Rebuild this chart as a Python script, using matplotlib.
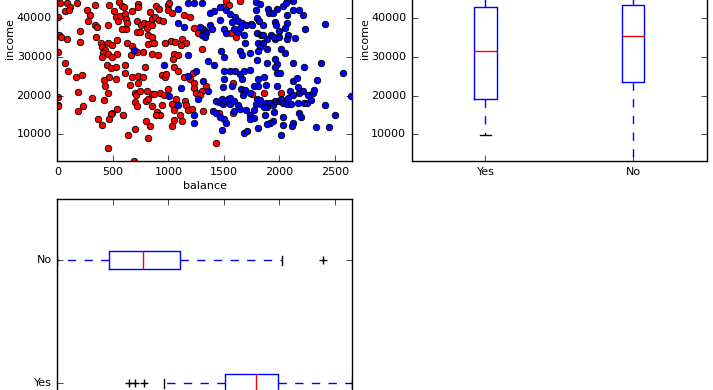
import matplotlib
matplotlib.use("Agg")
import matplotlib.pyplot as plt

plt.style.use("classic")
plt.rcParams["font.family"] = ["DejaVu Sans"]
plt.rcParams["font.size"] = 8

# ---------------- data ----------------
red_balance = [24, 87, 111, 69, 105, 180, 267, 291, 339, 465, 555, 579, 597, 507, 525, 543, 561, 609, 621,
               669, 729, 729, 837, 849, 714, 753, 783, 819, 807, 855, 279, 339, 357, 459, 627, 615, 579, 717,
               747, 819, 855, 201, 345, 15, 33, 87, 207, 393, 459, 489, 537, 627, 669, 399, 429, 414, 459, 534,
               663, 717, 771, 813, 855, 855, 489, 405, 69, 99, 447, 483, 531, 609, 609, 789, 171, 219, 417, 465,
               531, 669, 723, 771, 5, 5,
               429, 189, 453, 315, 417, 231, 189, 9, 9, 3, 657, 723, 699, 711, 741, 807, 855, 795, 819, 699, 717,
               855, 537, 495, 483, 591, 465, 369, 399, 795, 837, 699, 639, 819, 459, 693,
               885, 915, 993, 1005, 999, 1029, 879, 915, 951, 1137, 1191, 1233, 1263, 1311, 867, 969, 1023, 1059,
               1119, 1161, 1113, 903, 1053, 1089, 1041, 1299, 1503, 1515, 1545, 1641, 1563, 1611, 1047, 1089, 939,
               969, 981, 1143, 1191, 1221,
               873, 921, 963, 945, 897, 927, 885, 999, 1029, 1047, 1053, 1101, 1125, 1035, 1071, 1149, 1161, 1173,
               1209, 1227, 1233, 1245, 1305, 1287, 1335, 1311, 1455, 1431, 1581, 1581,
               1863, 2019, 1755]
red_income = [43948, 43948, 42744, 41884, 42056, 43948, 42056, 40680, 43432, 43432, 44206, 43088, 42744, 41712,
              40336, 39304, 40508, 41024, 39648, 41712, 43604, 42744, 41540, 39820, 39132, 38272, 38616, 38444,
              37412, 38272, 39304, 38100, 37584, 38272, 38616, 37240, 37068, 36380, 36380, 35692, 35176, 36552,
              35004, 35692, 35176, 34488, 33800, 33628, 33628, 32940, 34316, 33456, 32768, 32424, 31736, 31048,
              30704, 30704, 30532, 31220, 31220, 33284, 33628, 30704, 30016, 30016, 28468, 26232, 27780, 27092,
              27264, 27780, 25888, 27264, 24856, 25372, 23996, 24684, 24340, 24684, 25028, 24684, 40164, 31306,
              22456, 20908, 20564, 19360, 18844, 17296, 15920, 19532, 17640, 17300, 22628, 23144, 20736, 20048,
              21080, 21080, 20392, 18672, 19016, 18328, 17296, 17296, 16436, 15576, 15232, 14888, 14028, 13856,
              12308, 13340, 12136, 11448, 9900, 9040, 6460, 3192,
              43088, 42400, 43432, 43980, 42056, 41196, 40336, 39476, 39132, 40680, 40336, 37412, 36036, 37240,
              33456, 33628, 33972, 33800, 34488, 33456, 32940, 30360, 30704, 30532, 29500, 32080, 42744, 44292,
              43432, 44464, 36036, 35176, 27264, 26404, 25200, 24684, 25544, 24856, 24340, 25716,
              20392, 20564, 20220, 17640, 15748, 15060, 15060, 21596, 17812, 16264, 13684, 15060, 13512, 12136,
              19016, 18500, 17468, 16264, 16608, 23144, 21940, 20736, 21252, 20048, 22456, 16092, 15576, 7836,
              15404, 23316,
              20564, 20564, 20392]

blue_balance = [693,
                1089, 1173, 1227, 1299, 1371, 1413, 1467, 1515, 1557, 1599, 1629, 1665, 1701, 1743, 1083, 1137,
                1281, 1329, 1341, 1305, 1377, 1395, 1461, 1497, 1515, 1569, 1587, 1623, 1647, 1689, 1683, 1329,
                1173, 1473, 1497, 1647, 1665, 1731, 957, 1359, 1413, 1251, 1497, 1551, 1599, 1647, 1683, 1737,
                1311, 1497, 1659, 1173,
                1785, 1827, 1899, 1905, 1941, 1983, 2031, 2073, 2127, 2061, 2121, 2181, 2211, 2073, 1797, 1785,
                1815, 1851, 1749, 1959, 1971, 2067, 2049, 2001, 2229, 2409, 1797, 1833, 1851, 1887, 1929, 1959,
                1953, 1995, 2079, 2067, 2145, 1803, 1851, 1827, 1809, 1887, 2019, 2055, 1797, 1887, 1965, 1977,
                1965, 2127, 2223, 2379, 2571, 1977, 2007, 1863, 1803, 2121, 2163, 2343,
                1113, 1005, 1089, 1269, 1227, 1227, 1353, 1401, 1425, 1455, 1479, 1491, 1509, 1533, 1557, 1551,
                1587, 1593, 1623, 1647, 1497, 1515, 1485, 1677, 1707, 1491, 1569, 1653, 1689, 1731, 1671, 1695,
                1731, 1737, 1425, 1461,
                1767, 1803, 1881, 1983, 2169, 2181, 2217, 2259, 2301, 2313, 2097, 2121, 2079, 1797, 1821, 1791,
                1833, 1881, 1887, 1917, 1947, 1959, 1995, 2013, 2037, 2073, 2103, 2169, 2223, 2253, 2283, 1863,
                1773, 1767, 1869, 1953, 1941, 1917, 1887, 2031, 2037, 2121, 2115, 2181, 2199, 2019, 1803, 2331,
                2415, 2451, 2499, 2643]
blue_income = [31736,
               42400, 43948, 43776, 43948, 41196, 41712, 42916, 42056, 41024, 40336, 39304, 38616, 38272, 38444,
               38616, 37756, 37756, 36724, 36036, 35692, 38100, 37240, 39476, 37068, 36036, 38960, 37240, 36380,
               37412, 33456, 35520, 35004, 30532, 31564, 29844, 31392, 30360, 31048, 27780, 28984, 27780, 26404,
               26404, 26404, 26232, 25544, 26404, 26576, 23824, 24340, 24340, 25028,
               44120, 43604, 42228, 41196, 41196, 42400, 43088, 44292, 44292, 43776, 42056, 42056, 40680, 40852,
               39992, 42056, 39132, 38272, 38272, 38960, 38100, 38788, 37412, 36552, 37068, 38444, 36208, 35692,
               35520, 34488, 35692, 34488, 35176, 35004, 35692, 34488, 34832, 33456, 33628, 32424, 31392, 31908,
               32080, 30876, 29156, 28296, 29328, 28124, 27264, 28296, 27436, 28296, 25716, 25716, 25716, 24684,
               24172, 23824, 24512, 23996,
               21940, 19876, 17468, 19188, 15060, 12824, 21252, 15920, 18672, 18328, 19016, 17812, 18672, 19016,
               19360, 17812, 18500, 16092, 17468, 16436, 14028, 12996, 11104, 10244, 10760, 22284, 22456, 21768,
               21424, 20564, 20220, 16264, 15060, 14028, 15404, 14544,
               22456, 22456, 22800, 22456, 22112, 20736, 21080, 20220, 20564, 21424, 21252, 20220, 19360, 19188,
               18844, 17812, 17812, 17984, 17124, 17984, 17468, 18500, 18500, 19016, 17984, 17812, 17812, 18156,
               17984, 17984, 18844, 16952, 16264, 14200, 15060, 15748, 13512, 12996, 12652, 14544, 12480, 12824,
               12136, 15404, 14372, 9728, 11620, 11792, 17468, 11964, 15060, 19876]

groups = ["Yes", "No"]
income_ticks = [10000, 20000, 30000, 40000]
balance_ticks = [0, 500, 1000, 1500, 2000, 2500]
# income box statistics (Yes, No)
inc_whislo = [9742, 772]
inc_q1 = [19030, 23410]
inc_med = [31406, 35350]
inc_q3 = [42750, 43430]
inc_whishi = [66000, 73554]
inc_fliers = [[], []]
# balance box statistics (Yes, No)
bal_whislo = [957, 0]
bal_q1 = [1511, 468]
bal_med = [1790, 773]
bal_q3 = [1987, 1106]
bal_whishi = [2654, 2027]
bal_fliers = [[642, 696, 780], [2390]]

# ---------------- figure ----------------
W, H = 713, 390
fig = plt.figure(figsize=(W / 100, H / 100), dpi=100)
fig.patch.set_facecolor("white")

def ax_at(left, top, width, height):
    return fig.add_axes([left / W, (H - top - height) / H, width / W, height / H])

axh = 246
ax1 = ax_at(57.3, 161.3 - axh, 294.7, axh)
ax2 = ax_at(411.7, 161.3 - axh, 295, axh)
ax3 = ax_at(57.3, 198.7, 294.7, axh)

ax1.scatter(red_balance, red_income, s=22, c="r", edgecolors="k", linewidths=0.6, zorder=2)
ax1.scatter(blue_balance, blue_income, s=22, c="b", edgecolors="k", linewidths=0.6, zorder=3)
ax1.set_xlim(0, 2654)
ax1.set_ylim(3037, 3037 + axh * 257.9)
ax1.set_xticks(balance_ticks)
ax1.set_yticks(income_ticks)
ax1.set_xlabel("balance", labelpad=3)
ax1.set_ylabel("income", labelpad=1)

def stats(lo, q1, med, q3, hi, fl):
    return [dict(whislo=a, q1=b, med=c, q3=d, whishi=e, fliers=f, label=g)
            for a, b, c, d, e, f, g in zip(lo, q1, med, q3, hi, fl, groups)]

ax2.bxp(stats(inc_whislo, inc_q1, inc_med, inc_q3, inc_whishi, inc_fliers), positions=[1, 2])
ax2.set_xlim(0.5, 2.5)
ax2.set_ylim(3037, 3037 + axh * 257.9)
ax2.set_yticks(income_ticks)
ax2.set_ylabel("income", labelpad=1)

ax3.bxp(stats(bal_whislo, bal_q1, bal_med, bal_q3, bal_whishi, bal_fliers), positions=[1, 2], vert=False)
ax3.set_ylim(0.5, 2.5)
ax3.set_xlim(0, 2654)
ax3.set_xticks(balance_ticks)
ax3.tick_params(axis="x", labelbottom=False)

for ax in (ax1, ax2, ax3):
    ax.tick_params(labelsize=8)

fig.savefig("out.png", dpi=100, facecolor="white")
